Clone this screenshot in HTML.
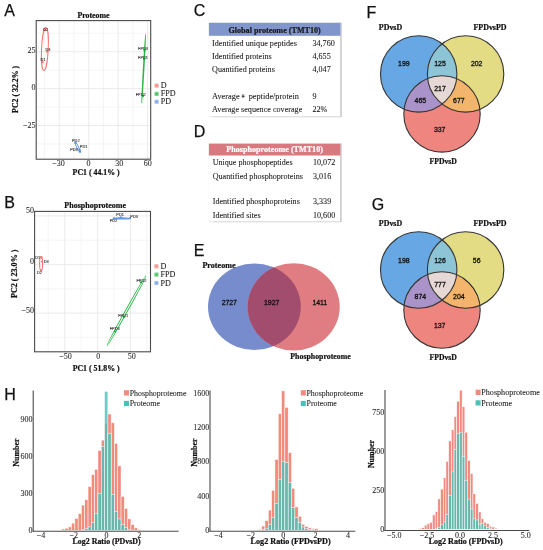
<!DOCTYPE html>
<html><head><meta charset="utf-8"><style>
html,body{margin:0;padding:0;background:#fff;width:543px;height:550px;overflow:hidden}
svg{display:block;filter:blur(0.3px)}
</style></head><body>
<svg width="543" height="550" viewBox="0 0 543 550">
<rect width="543" height="550" fill="#fff"/>
<text x="4.35" y="16.30" font-family="Liberation Sans" font-size="16" font-weight="normal" text-anchor="start" fill="#111" stroke="#111" stroke-width="0.25">A</text>
<rect x="36.2" y="20.6" width="114.49999999999999" height="138.6" fill="#fff"/>
<line x1="44.45" y1="20.6" x2="44.45" y2="159.2" stroke="#efefef" stroke-width="0.6"/>
<line x1="59.20" y1="20.6" x2="59.20" y2="159.2" stroke="#e6e6e6" stroke-width="0.75"/>
<line x1="73.95" y1="20.6" x2="73.95" y2="159.2" stroke="#efefef" stroke-width="0.6"/>
<line x1="88.70" y1="20.6" x2="88.70" y2="159.2" stroke="#e6e6e6" stroke-width="0.75"/>
<line x1="103.45" y1="20.6" x2="103.45" y2="159.2" stroke="#efefef" stroke-width="0.6"/>
<line x1="118.20" y1="20.6" x2="118.20" y2="159.2" stroke="#e6e6e6" stroke-width="0.75"/>
<line x1="132.95" y1="20.6" x2="132.95" y2="159.2" stroke="#efefef" stroke-width="0.6"/>
<line x1="147.70" y1="20.6" x2="147.70" y2="159.2" stroke="#e6e6e6" stroke-width="0.75"/>
<line x1="36.2" y1="143.95" x2="150.7" y2="143.95" stroke="#efefef" stroke-width="0.6"/>
<line x1="36.2" y1="125.50" x2="150.7" y2="125.50" stroke="#e6e6e6" stroke-width="0.75"/>
<line x1="36.2" y1="107.05" x2="150.7" y2="107.05" stroke="#efefef" stroke-width="0.6"/>
<line x1="36.2" y1="88.60" x2="150.7" y2="88.60" stroke="#e6e6e6" stroke-width="0.75"/>
<line x1="36.2" y1="70.15" x2="150.7" y2="70.15" stroke="#efefef" stroke-width="0.6"/>
<line x1="36.2" y1="51.70" x2="150.7" y2="51.70" stroke="#e6e6e6" stroke-width="0.75"/>
<line x1="36.2" y1="33.25" x2="150.7" y2="33.25" stroke="#efefef" stroke-width="0.6"/>
<ellipse cx="44.9" cy="49" rx="3.3" ry="21.5" transform="rotate(2.7 44.9 49)" fill="none" stroke="#F8766D" stroke-width="1.0" opacity="1"/>
<circle cx="45" cy="30" r="1.15" fill="#F8766D"/><text x="45.5" y="30.8" font-family="Liberation Sans" font-size="3.9" text-anchor="middle" fill="#222" stroke="#222" stroke-width="0.08">D2</text>
<circle cx="47.2" cy="51.8" r="1.15" fill="#F8766D"/><text x="48" y="51.099999999999994" font-family="Liberation Sans" font-size="3.9" text-anchor="middle" fill="#222" stroke="#222" stroke-width="0.08">D3</text>
<circle cx="42.5" cy="62" r="1.15" fill="#F8766D"/><text x="43" y="60.8" font-family="Liberation Sans" font-size="3.9" text-anchor="middle" fill="#222" stroke="#222" stroke-width="0.08">D1</text>
<ellipse cx="143.65" cy="68.65" rx="0.3" ry="34.4" transform="rotate(3.25 143.65 68.65)" fill="none" stroke="#1DB33F" stroke-width="1.0" opacity="0.95"/>
<circle cx="144.6" cy="50.5" r="1.15" fill="#1DB33F"/><text x="143" y="50.3" font-family="Liberation Sans" font-size="3.9" text-anchor="middle" fill="#222" stroke="#222" stroke-width="0.08">FPD3</text>
<circle cx="144.3" cy="59.3" r="1.15" fill="#1DB33F"/><text x="143" y="59.199999999999996" font-family="Liberation Sans" font-size="3.9" text-anchor="middle" fill="#222" stroke="#222" stroke-width="0.08">FPD1</text>
<circle cx="143.1" cy="96.1" r="1.15" fill="#1DB33F"/><text x="140.7" y="96.2" font-family="Liberation Sans" font-size="3.9" text-anchor="middle" fill="#222" stroke="#222" stroke-width="0.08">FPD2</text>
<ellipse cx="77.7" cy="147.35" rx="0.9" ry="5.8" transform="rotate(-26.8 77.7 147.35)" fill="none" stroke="#5C93E6" stroke-width="0.9" opacity="0.95"/>
<circle cx="75.5" cy="142.9" r="1.15" fill="#5C93E6"/><text x="75.8" y="141.60000000000002" font-family="Liberation Sans" font-size="3.9" text-anchor="middle" fill="#222" stroke="#222" stroke-width="0.08">PD2</text>
<circle cx="79.5" cy="149.5" r="1.15" fill="#5C93E6"/><text x="83.6" y="147.5" font-family="Liberation Sans" font-size="3.9" text-anchor="middle" fill="#222" stroke="#222" stroke-width="0.08">PD1</text>
<circle cx="79.9" cy="151.4" r="1.15" fill="#5C93E6"/><text x="74" y="151.20000000000002" font-family="Liberation Sans" font-size="3.9" text-anchor="middle" fill="#222" stroke="#222" stroke-width="0.08">PD3</text>
<rect x="36.2" y="20.6" width="114.49999999999999" height="138.6" fill="none" stroke="#4a4a4a" stroke-width="1.1"/>
<text x="58.50" y="165.60" font-family="Liberation Serif" font-size="8" font-weight="normal" text-anchor="middle" fill="#2a2a2a"  stroke="#2a2a2a" stroke-width="0.08">−30</text>
<text x="88.40" y="165.60" font-family="Liberation Serif" font-size="8" font-weight="normal" text-anchor="middle" fill="#2a2a2a"  stroke="#2a2a2a" stroke-width="0.08">0</text>
<text x="119.30" y="165.60" font-family="Liberation Serif" font-size="8" font-weight="normal" text-anchor="middle" fill="#2a2a2a"  stroke="#2a2a2a" stroke-width="0.08">30</text>
<text x="147.80" y="165.60" font-family="Liberation Serif" font-size="8" font-weight="normal" text-anchor="middle" fill="#2a2a2a"  stroke="#2a2a2a" stroke-width="0.08">60</text>
<text x="35.60" y="127.50" font-family="Liberation Serif" font-size="8" font-weight="normal" text-anchor="end" fill="#2a2a2a"  stroke="#2a2a2a" stroke-width="0.08">−25</text>
<text x="35.60" y="90.40" font-family="Liberation Serif" font-size="8" font-weight="normal" text-anchor="end" fill="#2a2a2a"  stroke="#2a2a2a" stroke-width="0.08">0</text>
<text x="35.60" y="52.70" font-family="Liberation Serif" font-size="8" font-weight="normal" text-anchor="end" fill="#2a2a2a"  stroke="#2a2a2a" stroke-width="0.08">25</text>
<text x="93.50" y="17.90" font-family="Liberation Serif" font-size="8.1" font-weight="bold" text-anchor="middle" fill="#111" textLength="32.2" lengthAdjust="spacingAndGlyphs"  stroke="#111" stroke-width="0.22">Proteome</text>
<text x="96.10" y="175.30" font-family="Liberation Serif" font-size="8.1" font-weight="bold" text-anchor="middle" fill="#111" textLength="47" lengthAdjust="spacingAndGlyphs"  stroke="#111" stroke-width="0.22">PC1 ( 44.1% )</text>
<text x="15.30" y="92.20" font-family="Liberation Serif" font-size="8.1" font-weight="bold" text-anchor="middle" fill="#111" textLength="47" lengthAdjust="spacingAndGlyphs" transform="rotate(-90 15.3 89.4)" stroke="#111" stroke-width="0.22">PC2 ( 32.2% )</text>
<rect x="154.5" y="83.55" width="4.2" height="4.2" fill="#f3b0ab"/>
<circle cx="156.6" cy="85.65" r="1.1" fill="#F8766D" opacity="0.8"/>
<text x="160.70" y="88.15" font-family="Liberation Serif" font-size="8.1" font-weight="normal" text-anchor="start" fill="#1a1a1a"  stroke="#1a1a1a" stroke-width="0.08">D</text>
<rect x="154.5" y="91.80" width="4.2" height="4.2" fill="#7fd48f"/>
<circle cx="156.6" cy="93.90" r="1.1" fill="#1DB33F" opacity="0.8"/>
<text x="160.70" y="96.40" font-family="Liberation Serif" font-size="8.1" font-weight="normal" text-anchor="start" fill="#1a1a1a"  stroke="#1a1a1a" stroke-width="0.08">FPD</text>
<rect x="154.5" y="99.65" width="4.2" height="4.2" fill="#a9c3ee"/>
<circle cx="156.6" cy="101.75" r="1.1" fill="#5C93E6" opacity="0.8"/>
<text x="160.70" y="104.25" font-family="Liberation Serif" font-size="8.1" font-weight="normal" text-anchor="start" fill="#1a1a1a"  stroke="#1a1a1a" stroke-width="0.08">PD</text>
<text x="4.23" y="208.40" font-family="Liberation Sans" font-size="16" font-weight="normal" text-anchor="start" fill="#111" stroke="#111" stroke-width="0.25">B</text>
<rect x="34.6" y="211.4" width="115.9" height="140.4" fill="#fff"/>
<line x1="48.25" y1="211.4" x2="48.25" y2="351.8" stroke="#efefef" stroke-width="0.6"/>
<line x1="64.70" y1="211.4" x2="64.70" y2="351.8" stroke="#e6e6e6" stroke-width="0.75"/>
<line x1="81.15" y1="211.4" x2="81.15" y2="351.8" stroke="#efefef" stroke-width="0.6"/>
<line x1="97.60" y1="211.4" x2="97.60" y2="351.8" stroke="#e6e6e6" stroke-width="0.75"/>
<line x1="114.05" y1="211.4" x2="114.05" y2="351.8" stroke="#efefef" stroke-width="0.6"/>
<line x1="130.50" y1="211.4" x2="130.50" y2="351.8" stroke="#e6e6e6" stroke-width="0.75"/>
<line x1="146.95" y1="211.4" x2="146.95" y2="351.8" stroke="#efefef" stroke-width="0.6"/>
<line x1="34.6" y1="337.40" x2="150.5" y2="337.40" stroke="#efefef" stroke-width="0.6"/>
<line x1="34.6" y1="313.10" x2="150.5" y2="313.10" stroke="#e6e6e6" stroke-width="0.75"/>
<line x1="34.6" y1="288.80" x2="150.5" y2="288.80" stroke="#efefef" stroke-width="0.6"/>
<line x1="34.6" y1="264.50" x2="150.5" y2="264.50" stroke="#e6e6e6" stroke-width="0.75"/>
<line x1="34.6" y1="240.20" x2="150.5" y2="240.20" stroke="#efefef" stroke-width="0.6"/>
<line x1="34.6" y1="215.90" x2="150.5" y2="215.90" stroke="#e6e6e6" stroke-width="0.75"/>
<ellipse cx="41.1" cy="263.6" rx="1.5" ry="7.4" transform="rotate(0 41.1 263.6)" fill="none" stroke="#F8766D" stroke-width="1.1" opacity="1"/>
<circle cx="41.4" cy="257.7" r="1.15" fill="#F8766D"/><text x="37.7" y="258.6" font-family="Liberation Sans" font-size="3.9" text-anchor="middle" fill="#222" stroke="#222" stroke-width="0.08">D1</text>
<circle cx="42.1" cy="261.7" r="1.15" fill="#F8766D"/><text x="46.2" y="263.0" font-family="Liberation Sans" font-size="3.9" text-anchor="middle" fill="#222" stroke="#222" stroke-width="0.08">D3</text>
<circle cx="41" cy="270.2" r="1.15" fill="#F8766D"/><text x="39.5" y="273.7" font-family="Liberation Sans" font-size="3.9" text-anchor="middle" fill="#222" stroke="#222" stroke-width="0.08">D2</text>
<ellipse cx="121.95" cy="218.45" rx="8.45" ry="0.6" transform="rotate(1 121.95 218.45)" fill="none" stroke="#5C93E6" stroke-width="1.1" opacity="0.95"/>
<circle cx="120.8" cy="217.5" r="1.15" fill="#5C93E6"/><text x="120.1" y="216.20000000000002" font-family="Liberation Sans" font-size="3.9" text-anchor="middle" fill="#222" stroke="#222" stroke-width="0.08">PD1</text>
<circle cx="130" cy="218.3" r="1.15" fill="#5C93E6"/><text x="134.1" y="217.70000000000002" font-family="Liberation Sans" font-size="3.9" text-anchor="middle" fill="#222" stroke="#222" stroke-width="0.08">PD3</text>
<circle cx="113.8" cy="218.6" r="1.15" fill="#5C93E6"/><text x="113.5" y="222.10000000000002" font-family="Liberation Sans" font-size="3.9" text-anchor="middle" fill="#222" stroke="#222" stroke-width="0.08">PD2</text>
<ellipse cx="126.5" cy="310.8" rx="1.0" ry="40" transform="rotate(29.1 126.5 310.8)" fill="none" stroke="#1DB33F" stroke-width="0.9" opacity="0.95"/>
<circle cx="141" cy="282.4" r="1.15" fill="#1DB33F"/><text x="141.4" y="282.1" font-family="Liberation Sans" font-size="3.9" text-anchor="middle" fill="#222" stroke="#222" stroke-width="0.08">FPD2</text>
<circle cx="124" cy="317" r="1.15" fill="#1DB33F"/><text x="123.2" y="316.90000000000003" font-family="Liberation Sans" font-size="3.9" text-anchor="middle" fill="#222" stroke="#222" stroke-width="0.08">FPD1</text>
<circle cx="115.1" cy="331.5" r="1.15" fill="#1DB33F"/><text x="114.7" y="329.7" font-family="Liberation Sans" font-size="3.9" text-anchor="middle" fill="#222" stroke="#222" stroke-width="0.08">FPD3</text>
<rect x="34.6" y="211.4" width="115.9" height="140.4" fill="none" stroke="#4a4a4a" stroke-width="1.1"/>
<text x="65.40" y="359.40" font-family="Liberation Serif" font-size="8" font-weight="normal" text-anchor="middle" fill="#2a2a2a"  stroke="#2a2a2a" stroke-width="0.08">−50</text>
<text x="98.30" y="359.40" font-family="Liberation Serif" font-size="8" font-weight="normal" text-anchor="middle" fill="#2a2a2a"  stroke="#2a2a2a" stroke-width="0.08">0</text>
<text x="131.70" y="359.40" font-family="Liberation Serif" font-size="8" font-weight="normal" text-anchor="middle" fill="#2a2a2a"  stroke="#2a2a2a" stroke-width="0.08">50</text>
<text x="34.00" y="313.30" font-family="Liberation Serif" font-size="8" font-weight="normal" text-anchor="end" fill="#2a2a2a"  stroke="#2a2a2a" stroke-width="0.08">−50</text>
<text x="34.00" y="263.70" font-family="Liberation Serif" font-size="8" font-weight="normal" text-anchor="end" fill="#2a2a2a"  stroke="#2a2a2a" stroke-width="0.08">0</text>
<text x="34.00" y="213.20" font-family="Liberation Serif" font-size="8" font-weight="normal" text-anchor="end" fill="#2a2a2a"  stroke="#2a2a2a" stroke-width="0.08">50</text>
<text x="95.20" y="207.60" font-family="Liberation Serif" font-size="8.1" font-weight="bold" text-anchor="middle" fill="#111" textLength="61.8" lengthAdjust="spacingAndGlyphs"  stroke="#111" stroke-width="0.22">Phosphoproteome</text>
<text x="96.10" y="371.10" font-family="Liberation Serif" font-size="8.1" font-weight="bold" text-anchor="middle" fill="#111" textLength="46.9" lengthAdjust="spacingAndGlyphs"  stroke="#111" stroke-width="0.22">PC1 ( 51.8% )</text>
<text x="14.00" y="276.60" font-family="Liberation Serif" font-size="8.1" font-weight="bold" text-anchor="middle" fill="#111" textLength="48.4" lengthAdjust="spacingAndGlyphs" transform="rotate(-90 14 273.8)" stroke="#111" stroke-width="0.22">PC2 ( 23.0% )</text>
<rect x="154.3" y="264.20" width="4.2" height="4.2" fill="#f3b0ab"/>
<circle cx="156.4" cy="266.30" r="1.1" fill="#F8766D" opacity="0.8"/>
<text x="160.50" y="268.80" font-family="Liberation Serif" font-size="8.1" font-weight="normal" text-anchor="start" fill="#1a1a1a"  stroke="#1a1a1a" stroke-width="0.08">D</text>
<rect x="154.3" y="272.50" width="4.2" height="4.2" fill="#7fd48f"/>
<circle cx="156.4" cy="274.60" r="1.1" fill="#1DB33F" opacity="0.8"/>
<text x="160.50" y="277.10" font-family="Liberation Serif" font-size="8.1" font-weight="normal" text-anchor="start" fill="#1a1a1a"  stroke="#1a1a1a" stroke-width="0.08">FPD</text>
<rect x="154.3" y="280.90" width="4.2" height="4.2" fill="#a9c3ee"/>
<circle cx="156.4" cy="283.00" r="1.1" fill="#5C93E6" opacity="0.8"/>
<text x="160.50" y="285.50" font-family="Liberation Serif" font-size="8.1" font-weight="normal" text-anchor="start" fill="#1a1a1a"  stroke="#1a1a1a" stroke-width="0.08">PD</text>
<text x="193.67" y="16.30" font-family="Liberation Sans" font-size="16" font-weight="normal" text-anchor="start" fill="#111" stroke="#111" stroke-width="0.25">C</text>
<rect x="208.9" y="22.299999999999997" width="132.89999999999998" height="94.9" fill="#e2e2e2"/>
<rect x="208.9" y="22.9" width="131.49999999999997" height="93.5" fill="#fff"/>
<rect x="340.4" y="22.599999999999998" width="1.1" height="94.3" fill="#c4c4c4"/>
<rect x="212.9" y="116.4" width="127.49999999999997" height="0.8" fill="#dadada"/>
<rect x="208.9" y="22.9" width="131.49999999999997" height="12.899999999999999" fill="#8096CD"/>
<text x="274.65" y="32.90" font-family="Liberation Serif" font-size="8.1" font-weight="bold" text-anchor="middle" fill="#1a1a1a" textLength="92.4" lengthAdjust="spacingAndGlyphs"  stroke="#1a1a1a" stroke-width="0.22">Global proteome (TMT10)</text>
<text x="212.10" y="45.70" font-family="Liberation Serif" font-size="8.1" font-weight="normal" text-anchor="start" fill="#1a1a1a" textLength="84.8" lengthAdjust="spacingAndGlyphs"  stroke="#1a1a1a" stroke-width="0.08">Identified unique peptides</text>
<text x="312.50" y="45.70" font-family="Liberation Serif" font-size="8.1" font-weight="normal" text-anchor="start" fill="#1a1a1a"  stroke="#1a1a1a" stroke-width="0.08">34,760</text>
<text x="212.10" y="59.00" font-family="Liberation Serif" font-size="8.1" font-weight="normal" text-anchor="start" fill="#1a1a1a"  stroke="#1a1a1a" stroke-width="0.08">Identified proteins</text>
<text x="312.50" y="59.00" font-family="Liberation Serif" font-size="8.1" font-weight="normal" text-anchor="start" fill="#1a1a1a"  stroke="#1a1a1a" stroke-width="0.08">4,655</text>
<text x="212.10" y="71.50" font-family="Liberation Serif" font-size="8.1" font-weight="normal" text-anchor="start" fill="#1a1a1a"  stroke="#1a1a1a" stroke-width="0.08">Quantified proteins</text>
<text x="312.50" y="71.50" font-family="Liberation Serif" font-size="8.1" font-weight="normal" text-anchor="start" fill="#1a1a1a"  stroke="#1a1a1a" stroke-width="0.08">4,047</text>
<text x="212.10" y="99.20" font-family="Liberation Serif" font-size="8.1" font-weight="normal" text-anchor="start" fill="#1a1a1a" textLength="86.8" lengthAdjust="spacingAndGlyphs"  stroke="#1a1a1a" stroke-width="0.08">Average <tspan font-size="5.5" dy="-1.2">#</tspan><tspan dy="1.2">&#160;&#160;peptide/protein</tspan></text>
<text x="312.50" y="99.20" font-family="Liberation Serif" font-size="8.1" font-weight="normal" text-anchor="start" fill="#1a1a1a"  stroke="#1a1a1a" stroke-width="0.08">9</text>
<text x="212.10" y="111.50" font-family="Liberation Serif" font-size="8.1" font-weight="normal" text-anchor="start" fill="#1a1a1a" textLength="90.2" lengthAdjust="spacingAndGlyphs"  stroke="#1a1a1a" stroke-width="0.08">Average sequence coverage</text>
<text x="312.50" y="111.50" font-family="Liberation Serif" font-size="8.1" font-weight="normal" text-anchor="start" fill="#1a1a1a"  stroke="#1a1a1a" stroke-width="0.08">22%</text>
<text x="193.85" y="137.40" font-family="Liberation Sans" font-size="16" font-weight="normal" text-anchor="start" fill="#111" stroke="#111" stroke-width="0.25">D</text>
<rect x="208.9" y="143.1" width="132.8" height="79.10000000000002" fill="#e2e2e2"/>
<rect x="208.9" y="143.7" width="131.4" height="77.70000000000002" fill="#fff"/>
<rect x="340.3" y="143.39999999999998" width="1.1" height="78.50000000000001" fill="#c4c4c4"/>
<rect x="212.9" y="221.4" width="127.4" height="0.8" fill="#dadada"/>
<rect x="208.9" y="143.7" width="131.4" height="11.800000000000011" fill="#D8787F"/>
<text x="274.60" y="152.20" font-family="Liberation Serif" font-size="8.1" font-weight="bold" text-anchor="middle" fill="#fff" textLength="96.7" lengthAdjust="spacingAndGlyphs"  stroke="#fff" stroke-width="0.22">Phosphoproteome (TMT10)</text>
<text x="212.70" y="165.00" font-family="Liberation Serif" font-size="8.1" font-weight="normal" text-anchor="start" fill="#1a1a1a" textLength="79.9" lengthAdjust="spacingAndGlyphs"  stroke="#1a1a1a" stroke-width="0.08">Unique phosphopeptides</text>
<text x="313.00" y="165.00" font-family="Liberation Serif" font-size="8.1" font-weight="normal" text-anchor="start" fill="#1a1a1a"  stroke="#1a1a1a" stroke-width="0.08">10,072</text>
<text x="212.70" y="178.70" font-family="Liberation Serif" font-size="8.1" font-weight="normal" text-anchor="start" fill="#1a1a1a" textLength="90.2" lengthAdjust="spacingAndGlyphs"  stroke="#1a1a1a" stroke-width="0.08">Quantified phosphoproteins</text>
<text x="313.00" y="178.70" font-family="Liberation Serif" font-size="8.1" font-weight="normal" text-anchor="start" fill="#1a1a1a"  stroke="#1a1a1a" stroke-width="0.08">3,016</text>
<text x="212.70" y="204.20" font-family="Liberation Serif" font-size="8.1" font-weight="normal" text-anchor="start" fill="#1a1a1a" textLength="87.1" lengthAdjust="spacingAndGlyphs"  stroke="#1a1a1a" stroke-width="0.08">Identified phosphoproteins</text>
<text x="313.00" y="204.20" font-family="Liberation Serif" font-size="8.1" font-weight="normal" text-anchor="start" fill="#1a1a1a"  stroke="#1a1a1a" stroke-width="0.08">3,339</text>
<text x="212.70" y="217.60" font-family="Liberation Serif" font-size="8.1" font-weight="normal" text-anchor="start" fill="#1a1a1a"  stroke="#1a1a1a" stroke-width="0.08">Identified sites</text>
<text x="313.00" y="217.60" font-family="Liberation Serif" font-size="8.1" font-weight="normal" text-anchor="start" fill="#1a1a1a"  stroke="#1a1a1a" stroke-width="0.08">10,600</text>
<text x="193.70" y="255.95" font-family="Liberation Sans" font-size="16" font-weight="normal" text-anchor="start" fill="#111" stroke="#111" stroke-width="0.25">E</text>
<defs><clipPath id="cE"><ellipse cx="254.4" cy="306.7" rx="46.4" ry="43.3"/></clipPath></defs>
<ellipse cx="254.4" cy="306.7" rx="46.4" ry="43.3" fill="#768CCD"/>
<ellipse cx="293.7" cy="306.9" rx="46" ry="43.6" fill="#E07D82"/>
<ellipse cx="293.7" cy="306.9" rx="46" ry="43.6" fill="#A24D6E" clip-path="url(#cE)"/>
<text x="229.30" y="305.40" font-family="Liberation Sans" font-size="6.9" font-weight="normal" text-anchor="middle" fill="#111"  stroke="#111" stroke-width="0.3">2727</text>
<text x="271.70" y="305.40" font-family="Liberation Sans" font-size="6.9" font-weight="normal" text-anchor="middle" fill="#111"  stroke="#111" stroke-width="0.3">1927</text>
<text x="319.80" y="304.60" font-family="Liberation Sans" font-size="6.9" font-weight="normal" text-anchor="middle" fill="#111"  stroke="#111" stroke-width="0.3">1411</text>
<text x="219.00" y="268.00" font-family="Liberation Serif" font-size="8.1" font-weight="bold" text-anchor="middle" fill="#111" textLength="33.2" lengthAdjust="spacingAndGlyphs"  stroke="#111" stroke-width="0.22">Proteome</text>
<text x="320.50" y="358.80" font-family="Liberation Serif" font-size="8.1" font-weight="bold" text-anchor="middle" fill="#111" textLength="60.3" lengthAdjust="spacingAndGlyphs"  stroke="#111" stroke-width="0.22">Phosphoproteome</text>
<text x="366.50" y="17.80" font-family="Liberation Sans" font-size="16" font-weight="normal" text-anchor="start" fill="#111" stroke="#111" stroke-width="0.25">F</text>
<defs><clipPath id="vfb"><circle cx="418.7" cy="73.9" r="38.2"/></clipPath><clipPath id="vfy"><circle cx="465.6" cy="73.9" r="38.2"/></clipPath></defs>
<circle cx="418.7" cy="73.9" r="38.2" fill="#67A7E3"/>
<circle cx="465.6" cy="73.9" r="38.2" fill="#E4DC84"/>
<circle cx="442.0" cy="113.9" r="38.2" fill="#EF857F"/>
<circle cx="465.6" cy="73.9" r="38.2" fill="#8DC5D6" clip-path="url(#vfb)"/>
<circle cx="442.0" cy="113.9" r="38.2" fill="#A993C8" clip-path="url(#vfb)"/>
<circle cx="442.0" cy="113.9" r="38.2" fill="#F3B56B" clip-path="url(#vfy)"/>
<g clip-path="url(#vfb)"><circle cx="442.0" cy="113.9" r="38.2" fill="#E6D8D4" clip-path="url(#vfy)"/></g>
<circle cx="418.7" cy="73.9" r="38.2" fill="none" stroke="#353535" stroke-width="1.1"/>
<circle cx="465.6" cy="73.9" r="38.2" fill="none" stroke="#353535" stroke-width="1.1"/>
<circle cx="442.0" cy="113.9" r="38.2" fill="none" stroke="#353535" stroke-width="1.1"/>
<text x="403.90" y="66.40" font-family="Liberation Sans" font-size="6.95" font-weight="normal" text-anchor="middle" fill="#111"  stroke="#111" stroke-width="0.3">199</text>
<text x="440.00" y="66.40" font-family="Liberation Sans" font-size="6.95" font-weight="normal" text-anchor="middle" fill="#111"  stroke="#111" stroke-width="0.3">125</text>
<text x="476.70" y="66.40" font-family="Liberation Sans" font-size="6.95" font-weight="normal" text-anchor="middle" fill="#111"  stroke="#111" stroke-width="0.3">202</text>
<text x="440.00" y="90.90" font-family="Liberation Sans" font-size="6.95" font-weight="normal" text-anchor="middle" fill="#111"  stroke="#111" stroke-width="0.3">217</text>
<text x="420.40" y="103.20" font-family="Liberation Sans" font-size="6.95" font-weight="normal" text-anchor="middle" fill="#111"  stroke="#111" stroke-width="0.3">465</text>
<text x="458.90" y="103.20" font-family="Liberation Sans" font-size="6.95" font-weight="normal" text-anchor="middle" fill="#111"  stroke="#111" stroke-width="0.3">677</text>
<text x="439.70" y="131.80" font-family="Liberation Sans" font-size="6.95" font-weight="normal" text-anchor="middle" fill="#111"  stroke="#111" stroke-width="0.3">337</text>
<text x="390.50" y="30.10" font-family="Liberation Serif" font-size="8.1" font-weight="bold" text-anchor="middle" fill="#111" textLength="23.4" lengthAdjust="spacingAndGlyphs"  stroke="#111" stroke-width="0.22">PDvsD</text>
<text x="490.00" y="30.10" font-family="Liberation Serif" font-size="8.1" font-weight="bold" text-anchor="middle" fill="#111" textLength="33.2" lengthAdjust="spacingAndGlyphs"  stroke="#111" stroke-width="0.22">FPDvsPD</text>
<text x="443.20" y="163.60" font-family="Liberation Serif" font-size="8.1" font-weight="bold" text-anchor="middle" fill="#111" textLength="27.4" lengthAdjust="spacingAndGlyphs"  stroke="#111" stroke-width="0.22">FPDvsD</text>
<text x="371.67" y="210.20" font-family="Liberation Sans" font-size="16" font-weight="normal" text-anchor="start" fill="#111" stroke="#111" stroke-width="0.25">G</text>
<defs><clipPath id="vgb"><circle cx="418.7" cy="270.0" r="38.2"/></clipPath><clipPath id="vgy"><circle cx="465.6" cy="270.0" r="38.2"/></clipPath></defs>
<circle cx="418.7" cy="270.0" r="38.2" fill="#67A7E3"/>
<circle cx="465.6" cy="270.0" r="38.2" fill="#E4DC84"/>
<circle cx="442.0" cy="310.0" r="38.2" fill="#EF857F"/>
<circle cx="465.6" cy="270.0" r="38.2" fill="#8DC5D6" clip-path="url(#vgb)"/>
<circle cx="442.0" cy="310.0" r="38.2" fill="#A993C8" clip-path="url(#vgb)"/>
<circle cx="442.0" cy="310.0" r="38.2" fill="#F3B56B" clip-path="url(#vgy)"/>
<g clip-path="url(#vgb)"><circle cx="442.0" cy="310.0" r="38.2" fill="#E6D8D4" clip-path="url(#vgy)"/></g>
<circle cx="418.7" cy="270.0" r="38.2" fill="none" stroke="#353535" stroke-width="1.1"/>
<circle cx="465.6" cy="270.0" r="38.2" fill="none" stroke="#353535" stroke-width="1.1"/>
<circle cx="442.0" cy="310.0" r="38.2" fill="none" stroke="#353535" stroke-width="1.1"/>
<text x="403.90" y="262.50" font-family="Liberation Sans" font-size="6.95" font-weight="normal" text-anchor="middle" fill="#111"  stroke="#111" stroke-width="0.3">198</text>
<text x="440.00" y="262.50" font-family="Liberation Sans" font-size="6.95" font-weight="normal" text-anchor="middle" fill="#111"  stroke="#111" stroke-width="0.3">126</text>
<text x="476.70" y="262.50" font-family="Liberation Sans" font-size="6.95" font-weight="normal" text-anchor="middle" fill="#111"  stroke="#111" stroke-width="0.3">56</text>
<text x="440.00" y="287.00" font-family="Liberation Sans" font-size="6.95" font-weight="normal" text-anchor="middle" fill="#111"  stroke="#111" stroke-width="0.3">777</text>
<text x="420.40" y="299.30" font-family="Liberation Sans" font-size="6.95" font-weight="normal" text-anchor="middle" fill="#111"  stroke="#111" stroke-width="0.3">874</text>
<text x="458.90" y="299.30" font-family="Liberation Sans" font-size="6.95" font-weight="normal" text-anchor="middle" fill="#111"  stroke="#111" stroke-width="0.3">204</text>
<text x="439.70" y="327.90" font-family="Liberation Sans" font-size="6.95" font-weight="normal" text-anchor="middle" fill="#111"  stroke="#111" stroke-width="0.3">137</text>
<text x="390.50" y="226.20" font-family="Liberation Serif" font-size="8.1" font-weight="bold" text-anchor="middle" fill="#111" textLength="23.4" lengthAdjust="spacingAndGlyphs"  stroke="#111" stroke-width="0.22">PDvsD</text>
<text x="490.00" y="226.20" font-family="Liberation Serif" font-size="8.1" font-weight="bold" text-anchor="middle" fill="#111" textLength="33.2" lengthAdjust="spacingAndGlyphs"  stroke="#111" stroke-width="0.22">FPDvsPD</text>
<text x="443.20" y="359.70" font-family="Liberation Serif" font-size="8.1" font-weight="bold" text-anchor="middle" fill="#111" textLength="27.4" lengthAdjust="spacingAndGlyphs"  stroke="#111" stroke-width="0.22">FPDvsD</text>
<text x="4.32" y="400.40" font-family="Liberation Sans" font-size="16" font-weight="normal" text-anchor="start" fill="#111" stroke="#111" stroke-width="0.25">H</text>
<rect x="61.65" y="529.00" width="3.30" height="1.30" fill="#F18B7D" stroke="#fff" stroke-width="0.5"/>
<rect x="64.95" y="528.20" width="3.30" height="2.10" fill="#F18B7D" stroke="#fff" stroke-width="0.5"/>
<rect x="68.25" y="526.90" width="3.30" height="3.40" fill="#F18B7D" stroke="#fff" stroke-width="0.5"/>
<rect x="71.55" y="523.10" width="3.30" height="7.20" fill="#F18B7D" stroke="#fff" stroke-width="0.5"/>
<rect x="74.85" y="518.40" width="3.30" height="11.90" fill="#F18B7D" stroke="#fff" stroke-width="0.5"/>
<rect x="78.15" y="513.60" width="3.30" height="16.70" fill="#F18B7D" stroke="#fff" stroke-width="0.5"/>
<rect x="81.45" y="505.10" width="3.30" height="25.20" fill="#F18B7D" stroke="#fff" stroke-width="0.5"/>
<rect x="84.75" y="499.80" width="3.30" height="30.50" fill="#F18B7D" stroke="#fff" stroke-width="0.5"/>
<rect x="88.05" y="486.50" width="3.30" height="43.80" fill="#F18B7D" stroke="#fff" stroke-width="0.5"/>
<rect x="91.35" y="474.60" width="3.30" height="55.70" fill="#F18B7D" stroke="#fff" stroke-width="0.5"/>
<rect x="94.65" y="469.30" width="3.30" height="61.00" fill="#F18B7D" stroke="#fff" stroke-width="0.5"/>
<rect x="97.95" y="450.70" width="3.30" height="79.60" fill="#F18B7D" stroke="#fff" stroke-width="0.5"/>
<rect x="101.25" y="440.10" width="3.30" height="90.20" fill="#F18B7D" stroke="#fff" stroke-width="0.5"/>
<rect x="104.55" y="423.30" width="3.30" height="107.00" fill="#F18B7D" stroke="#fff" stroke-width="0.5"/>
<rect x="107.85" y="414.00" width="3.30" height="116.30" fill="#F18B7D" stroke="#fff" stroke-width="0.5"/>
<rect x="111.15" y="422.80" width="3.30" height="107.50" fill="#F18B7D" stroke="#fff" stroke-width="0.5"/>
<rect x="114.45" y="443.30" width="3.30" height="87.00" fill="#F18B7D" stroke="#fff" stroke-width="0.5"/>
<rect x="117.75" y="465.90" width="3.30" height="64.40" fill="#F18B7D" stroke="#fff" stroke-width="0.5"/>
<rect x="121.05" y="496.30" width="3.30" height="34.00" fill="#F18B7D" stroke="#fff" stroke-width="0.5"/>
<rect x="124.35" y="508.50" width="3.30" height="21.80" fill="#F18B7D" stroke="#fff" stroke-width="0.5"/>
<rect x="127.65" y="518.90" width="3.30" height="11.40" fill="#F18B7D" stroke="#fff" stroke-width="0.5"/>
<rect x="130.95" y="524.60" width="3.30" height="5.70" fill="#F18B7D" stroke="#fff" stroke-width="0.5"/>
<rect x="134.25" y="527.80" width="3.30" height="2.50" fill="#F18B7D" stroke="#fff" stroke-width="0.5"/>
<rect x="137.55" y="529.30" width="3.30" height="1.00" fill="#F18B7D" stroke="#fff" stroke-width="0.5"/>
<rect x="81.45" y="529.30" width="3.30" height="1.00" fill="#4DBFB6" fill-opacity="0.82" stroke="#fff" stroke-width="0.5"/>
<rect x="84.75" y="528.80" width="3.30" height="1.50" fill="#4DBFB6" fill-opacity="0.82" stroke="#fff" stroke-width="0.5"/>
<rect x="88.05" y="526.90" width="3.30" height="3.40" fill="#4DBFB6" fill-opacity="0.82" stroke="#fff" stroke-width="0.5"/>
<rect x="91.35" y="522.30" width="3.30" height="8.00" fill="#4DBFB6" fill-opacity="0.82" stroke="#fff" stroke-width="0.5"/>
<rect x="94.65" y="513.30" width="3.30" height="17.00" fill="#4DBFB6" fill-opacity="0.82" stroke="#fff" stroke-width="0.5"/>
<rect x="97.95" y="493.30" width="3.30" height="37.00" fill="#4DBFB6" fill-opacity="0.82" stroke="#fff" stroke-width="0.5"/>
<rect x="101.25" y="446.30" width="3.30" height="84.00" fill="#4DBFB6" fill-opacity="0.82" stroke="#fff" stroke-width="0.5"/>
<rect x="104.55" y="391.30" width="3.30" height="139.00" fill="#4DBFB6" fill-opacity="0.82" stroke="#fff" stroke-width="0.5"/>
<rect x="107.85" y="433.60" width="3.30" height="96.70" fill="#4DBFB6" fill-opacity="0.82" stroke="#fff" stroke-width="0.5"/>
<rect x="111.15" y="494.30" width="3.30" height="36.00" fill="#4DBFB6" fill-opacity="0.82" stroke="#fff" stroke-width="0.5"/>
<rect x="114.45" y="511.40" width="3.30" height="18.90" fill="#4DBFB6" fill-opacity="0.82" stroke="#fff" stroke-width="0.5"/>
<rect x="117.75" y="518.90" width="3.30" height="11.40" fill="#4DBFB6" fill-opacity="0.82" stroke="#fff" stroke-width="0.5"/>
<rect x="121.05" y="524.60" width="3.30" height="5.70" fill="#4DBFB6" fill-opacity="0.82" stroke="#fff" stroke-width="0.5"/>
<rect x="124.35" y="527.50" width="3.30" height="2.80" fill="#4DBFB6" fill-opacity="0.82" stroke="#fff" stroke-width="0.5"/>
<rect x="127.65" y="529.30" width="3.30" height="1.00" fill="#4DBFB6" fill-opacity="0.82" stroke="#fff" stroke-width="0.5"/>
<line x1="33.2" y1="390.6" x2="33.2" y2="531.75" stroke="#4a4a4a" stroke-width="1.1"/>
<line x1="32.650000000000006" y1="531.2" x2="178.6" y2="531.2" stroke="#4a4a4a" stroke-width="1.1"/>
<text x="32.40" y="533.00" font-family="Liberation Serif" font-size="8" font-weight="normal" text-anchor="end" fill="#2a2a2a"  stroke="#2a2a2a" stroke-width="0.08">0</text>
<text x="32.40" y="495.89" font-family="Liberation Serif" font-size="8" font-weight="normal" text-anchor="end" fill="#2a2a2a"  stroke="#2a2a2a" stroke-width="0.08">300</text>
<text x="32.40" y="458.78" font-family="Liberation Serif" font-size="8" font-weight="normal" text-anchor="end" fill="#2a2a2a"  stroke="#2a2a2a" stroke-width="0.08">600</text>
<text x="32.40" y="421.67" font-family="Liberation Serif" font-size="8" font-weight="normal" text-anchor="end" fill="#2a2a2a"  stroke="#2a2a2a" stroke-width="0.08">900</text>
<text x="41.10" y="538.30" font-family="Liberation Serif" font-size="8" font-weight="normal" text-anchor="middle" fill="#2a2a2a"  stroke="#2a2a2a" stroke-width="0.08">−4</text>
<text x="73.80" y="538.30" font-family="Liberation Serif" font-size="8" font-weight="normal" text-anchor="middle" fill="#2a2a2a"  stroke="#2a2a2a" stroke-width="0.08">−2</text>
<text x="106.50" y="538.30" font-family="Liberation Serif" font-size="8" font-weight="normal" text-anchor="middle" fill="#2a2a2a"  stroke="#2a2a2a" stroke-width="0.08">0</text>
<text x="139.20" y="538.30" font-family="Liberation Serif" font-size="8" font-weight="normal" text-anchor="middle" fill="#2a2a2a"  stroke="#2a2a2a" stroke-width="0.08">2</text>
<text x="106.60" y="544.20" font-family="Liberation Serif" font-size="8.1" font-weight="bold" text-anchor="middle" fill="#111" textLength="68" lengthAdjust="spacingAndGlyphs"  stroke="#111" stroke-width="0.22">Log2 Ratio (PDvsD)</text>
<text x="16.00" y="455.40" font-family="Liberation Serif" font-size="8.1" font-weight="bold" text-anchor="middle" fill="#111" textLength="28.2" lengthAdjust="spacingAndGlyphs" transform="rotate(-90 16 452.6)" stroke="#111" stroke-width="0.22">Number</text>
<rect x="124.0" y="390.20000000000005" width="5" height="5.3" fill="#F18B7D"/>
<text x="129.70" y="395.60" font-family="Liberation Serif" font-size="8" font-weight="normal" text-anchor="start" fill="#222" textLength="56.7" lengthAdjust="spacingAndGlyphs"  stroke="#222" stroke-width="0.08">Phosphoproteome</text>
<rect x="124.0" y="400.9" width="5" height="5.2" fill="#4DBFB6"/>
<text x="129.70" y="406.20" font-family="Liberation Serif" font-size="8" font-weight="normal" text-anchor="start" fill="#222" textLength="30.3" lengthAdjust="spacingAndGlyphs"  stroke="#222" stroke-width="0.08">Proteome</text>
<rect x="258.30" y="529.20" width="3.32" height="1.00" fill="#F18B7D" stroke="#fff" stroke-width="0.5"/>
<rect x="261.62" y="526.00" width="3.32" height="4.20" fill="#F18B7D" stroke="#fff" stroke-width="0.5"/>
<rect x="264.94" y="520.60" width="3.32" height="9.60" fill="#F18B7D" stroke="#fff" stroke-width="0.5"/>
<rect x="268.26" y="510.10" width="3.32" height="20.10" fill="#F18B7D" stroke="#fff" stroke-width="0.5"/>
<rect x="271.58" y="490.40" width="3.32" height="39.80" fill="#F18B7D" stroke="#fff" stroke-width="0.5"/>
<rect x="274.90" y="459.50" width="3.32" height="70.70" fill="#F18B7D" stroke="#fff" stroke-width="0.5"/>
<rect x="278.22" y="413.80" width="3.32" height="116.40" fill="#F18B7D" stroke="#fff" stroke-width="0.5"/>
<rect x="281.54" y="390.90" width="3.32" height="139.30" fill="#F18B7D" stroke="#fff" stroke-width="0.5"/>
<rect x="284.86" y="407.30" width="3.32" height="122.90" fill="#F18B7D" stroke="#fff" stroke-width="0.5"/>
<rect x="288.18" y="452.60" width="3.32" height="77.60" fill="#F18B7D" stroke="#fff" stroke-width="0.5"/>
<rect x="291.50" y="488.20" width="3.32" height="42.00" fill="#F18B7D" stroke="#fff" stroke-width="0.5"/>
<rect x="294.82" y="506.90" width="3.32" height="23.30" fill="#F18B7D" stroke="#fff" stroke-width="0.5"/>
<rect x="298.14" y="516.30" width="3.32" height="13.90" fill="#F18B7D" stroke="#fff" stroke-width="0.5"/>
<rect x="301.46" y="524.20" width="3.32" height="6.00" fill="#F18B7D" stroke="#fff" stroke-width="0.5"/>
<rect x="304.78" y="526.30" width="3.32" height="3.90" fill="#F18B7D" stroke="#fff" stroke-width="0.5"/>
<rect x="308.10" y="527.80" width="3.32" height="2.40" fill="#F18B7D" stroke="#fff" stroke-width="0.5"/>
<rect x="311.42" y="528.50" width="3.32" height="1.70" fill="#F18B7D" stroke="#fff" stroke-width="0.5"/>
<rect x="314.74" y="528.80" width="3.32" height="1.40" fill="#F18B7D" stroke="#fff" stroke-width="0.5"/>
<rect x="261.62" y="529.60" width="3.32" height="0.60" fill="#4DBFB6" fill-opacity="0.82" stroke="#fff" stroke-width="0.5"/>
<rect x="264.94" y="528.20" width="3.32" height="2.00" fill="#4DBFB6" fill-opacity="0.82" stroke="#fff" stroke-width="0.5"/>
<rect x="268.26" y="524.60" width="3.32" height="5.60" fill="#4DBFB6" fill-opacity="0.82" stroke="#fff" stroke-width="0.5"/>
<rect x="271.58" y="517.30" width="3.32" height="12.90" fill="#4DBFB6" fill-opacity="0.82" stroke="#fff" stroke-width="0.5"/>
<rect x="274.90" y="503.30" width="3.32" height="26.90" fill="#4DBFB6" fill-opacity="0.82" stroke="#fff" stroke-width="0.5"/>
<rect x="278.22" y="479.60" width="3.32" height="50.60" fill="#4DBFB6" fill-opacity="0.82" stroke="#fff" stroke-width="0.5"/>
<rect x="281.54" y="461.20" width="3.32" height="69.00" fill="#4DBFB6" fill-opacity="0.82" stroke="#fff" stroke-width="0.5"/>
<rect x="284.86" y="462.60" width="3.32" height="67.60" fill="#4DBFB6" fill-opacity="0.82" stroke="#fff" stroke-width="0.5"/>
<rect x="288.18" y="482.50" width="3.32" height="47.70" fill="#4DBFB6" fill-opacity="0.82" stroke="#fff" stroke-width="0.5"/>
<rect x="291.50" y="507.60" width="3.32" height="22.60" fill="#4DBFB6" fill-opacity="0.82" stroke="#fff" stroke-width="0.5"/>
<rect x="294.82" y="517.70" width="3.32" height="12.50" fill="#4DBFB6" fill-opacity="0.82" stroke="#fff" stroke-width="0.5"/>
<rect x="298.14" y="522.70" width="3.32" height="7.50" fill="#4DBFB6" fill-opacity="0.82" stroke="#fff" stroke-width="0.5"/>
<rect x="301.46" y="527.00" width="3.32" height="3.20" fill="#4DBFB6" fill-opacity="0.82" stroke="#fff" stroke-width="0.5"/>
<rect x="304.78" y="528.50" width="3.32" height="1.70" fill="#4DBFB6" fill-opacity="0.82" stroke="#fff" stroke-width="0.5"/>
<rect x="308.10" y="529.20" width="3.32" height="1.00" fill="#4DBFB6" fill-opacity="0.82" stroke="#fff" stroke-width="0.5"/>
<rect x="311.42" y="529.70" width="3.32" height="0.50" fill="#4DBFB6" fill-opacity="0.82" stroke="#fff" stroke-width="0.5"/>
<line x1="210.0" y1="390.6" x2="210.0" y2="531.75" stroke="#4a4a4a" stroke-width="1.1"/>
<line x1="209.45" y1="531.2" x2="355.3" y2="531.2" stroke="#4a4a4a" stroke-width="1.1"/>
<text x="209.20" y="532.90" font-family="Liberation Serif" font-size="8" font-weight="normal" text-anchor="end" fill="#2a2a2a"  stroke="#2a2a2a" stroke-width="0.08">0</text>
<text x="209.20" y="498.60" font-family="Liberation Serif" font-size="8" font-weight="normal" text-anchor="end" fill="#2a2a2a"  stroke="#2a2a2a" stroke-width="0.08">400</text>
<text x="209.20" y="464.30" font-family="Liberation Serif" font-size="8" font-weight="normal" text-anchor="end" fill="#2a2a2a"  stroke="#2a2a2a" stroke-width="0.08">800</text>
<text x="209.20" y="430.00" font-family="Liberation Serif" font-size="8" font-weight="normal" text-anchor="end" fill="#2a2a2a"  stroke="#2a2a2a" stroke-width="0.08">1200</text>
<text x="209.20" y="395.70" font-family="Liberation Serif" font-size="8" font-weight="normal" text-anchor="end" fill="#2a2a2a"  stroke="#2a2a2a" stroke-width="0.08">1600</text>
<text x="218.52" y="538.30" font-family="Liberation Serif" font-size="8" font-weight="normal" text-anchor="middle" fill="#2a2a2a"  stroke="#2a2a2a" stroke-width="0.08">−4</text>
<text x="250.86" y="538.30" font-family="Liberation Serif" font-size="8" font-weight="normal" text-anchor="middle" fill="#2a2a2a"  stroke="#2a2a2a" stroke-width="0.08">−2</text>
<text x="283.20" y="538.30" font-family="Liberation Serif" font-size="8" font-weight="normal" text-anchor="middle" fill="#2a2a2a"  stroke="#2a2a2a" stroke-width="0.08">0</text>
<text x="315.54" y="538.30" font-family="Liberation Serif" font-size="8" font-weight="normal" text-anchor="middle" fill="#2a2a2a"  stroke="#2a2a2a" stroke-width="0.08">2</text>
<text x="347.88" y="538.30" font-family="Liberation Serif" font-size="8" font-weight="normal" text-anchor="middle" fill="#2a2a2a"  stroke="#2a2a2a" stroke-width="0.08">4</text>
<text x="290.60" y="544.20" font-family="Liberation Serif" font-size="8.1" font-weight="bold" text-anchor="middle" fill="#111" textLength="80" lengthAdjust="spacingAndGlyphs"  stroke="#111" stroke-width="0.22">Log2 Ratio (FPDvsPD)</text>
<text x="194.10" y="455.40" font-family="Liberation Serif" font-size="8.1" font-weight="bold" text-anchor="middle" fill="#111" textLength="28.2" lengthAdjust="spacingAndGlyphs" transform="rotate(-90 194.1 452.6)" stroke="#111" stroke-width="0.22">Number</text>
<rect x="300.8" y="390.20000000000005" width="5" height="5.3" fill="#F18B7D"/>
<text x="306.50" y="395.60" font-family="Liberation Serif" font-size="8" font-weight="normal" text-anchor="start" fill="#222" textLength="56.7" lengthAdjust="spacingAndGlyphs"  stroke="#222" stroke-width="0.08">Phosphoproteome</text>
<rect x="300.8" y="400.9" width="5" height="5.2" fill="#4DBFB6"/>
<text x="306.50" y="406.20" font-family="Liberation Serif" font-size="8" font-weight="normal" text-anchor="start" fill="#222" textLength="30.3" lengthAdjust="spacingAndGlyphs"  stroke="#222" stroke-width="0.08">Proteome</text>
<rect x="418.95" y="528.40" width="2.70" height="0.90" fill="#F18B7D" stroke="#fff" stroke-width="0.5"/>
<rect x="421.65" y="527.70" width="2.70" height="1.60" fill="#F18B7D" stroke="#fff" stroke-width="0.5"/>
<rect x="424.35" y="525.10" width="2.70" height="4.20" fill="#F18B7D" stroke="#fff" stroke-width="0.5"/>
<rect x="427.05" y="523.50" width="2.70" height="5.80" fill="#F18B7D" stroke="#fff" stroke-width="0.5"/>
<rect x="429.75" y="522.40" width="2.70" height="6.90" fill="#F18B7D" stroke="#fff" stroke-width="0.5"/>
<rect x="432.45" y="514.90" width="2.70" height="14.40" fill="#F18B7D" stroke="#fff" stroke-width="0.5"/>
<rect x="435.15" y="511.50" width="2.70" height="17.80" fill="#F18B7D" stroke="#fff" stroke-width="0.5"/>
<rect x="437.85" y="498.90" width="2.70" height="30.40" fill="#F18B7D" stroke="#fff" stroke-width="0.5"/>
<rect x="440.55" y="489.10" width="2.70" height="40.20" fill="#F18B7D" stroke="#fff" stroke-width="0.5"/>
<rect x="443.25" y="477.70" width="2.70" height="51.60" fill="#F18B7D" stroke="#fff" stroke-width="0.5"/>
<rect x="445.95" y="461.30" width="2.70" height="68.00" fill="#F18B7D" stroke="#fff" stroke-width="0.5"/>
<rect x="448.65" y="440.90" width="2.70" height="88.40" fill="#F18B7D" stroke="#fff" stroke-width="0.5"/>
<rect x="451.35" y="429.70" width="2.70" height="99.60" fill="#F18B7D" stroke="#fff" stroke-width="0.5"/>
<rect x="454.05" y="416.70" width="2.70" height="112.60" fill="#F18B7D" stroke="#fff" stroke-width="0.5"/>
<rect x="456.75" y="401.20" width="2.70" height="128.10" fill="#F18B7D" stroke="#fff" stroke-width="0.5"/>
<rect x="459.45" y="390.20" width="2.70" height="139.10" fill="#F18B7D" stroke="#fff" stroke-width="0.5"/>
<rect x="462.15" y="406.60" width="2.70" height="122.70" fill="#F18B7D" stroke="#fff" stroke-width="0.5"/>
<rect x="464.85" y="432.20" width="2.70" height="97.10" fill="#F18B7D" stroke="#fff" stroke-width="0.5"/>
<rect x="467.55" y="460.30" width="2.70" height="69.00" fill="#F18B7D" stroke="#fff" stroke-width="0.5"/>
<rect x="470.25" y="473.50" width="2.70" height="55.80" fill="#F18B7D" stroke="#fff" stroke-width="0.5"/>
<rect x="472.95" y="493.80" width="2.70" height="35.50" fill="#F18B7D" stroke="#fff" stroke-width="0.5"/>
<rect x="475.65" y="503.30" width="2.70" height="26.00" fill="#F18B7D" stroke="#fff" stroke-width="0.5"/>
<rect x="478.35" y="511.90" width="2.70" height="17.40" fill="#F18B7D" stroke="#fff" stroke-width="0.5"/>
<rect x="481.05" y="518.80" width="2.70" height="10.50" fill="#F18B7D" stroke="#fff" stroke-width="0.5"/>
<rect x="483.75" y="522.30" width="2.70" height="7.00" fill="#F18B7D" stroke="#fff" stroke-width="0.5"/>
<rect x="486.45" y="523.50" width="2.70" height="5.80" fill="#F18B7D" stroke="#fff" stroke-width="0.5"/>
<rect x="489.15" y="526.40" width="2.70" height="2.90" fill="#F18B7D" stroke="#fff" stroke-width="0.5"/>
<rect x="491.85" y="527.00" width="2.70" height="2.30" fill="#F18B7D" stroke="#fff" stroke-width="0.5"/>
<rect x="494.55" y="528.30" width="2.70" height="1.00" fill="#F18B7D" stroke="#fff" stroke-width="0.5"/>
<rect x="435.15" y="528.80" width="2.70" height="0.50" fill="#4DBFB6" fill-opacity="0.82" stroke="#fff" stroke-width="0.5"/>
<rect x="437.85" y="527.30" width="2.70" height="2.00" fill="#4DBFB6" fill-opacity="0.82" stroke="#fff" stroke-width="0.5"/>
<rect x="440.55" y="524.80" width="2.70" height="4.50" fill="#4DBFB6" fill-opacity="0.82" stroke="#fff" stroke-width="0.5"/>
<rect x="443.25" y="521.90" width="2.70" height="7.40" fill="#4DBFB6" fill-opacity="0.82" stroke="#fff" stroke-width="0.5"/>
<rect x="445.95" y="514.60" width="2.70" height="14.70" fill="#4DBFB6" fill-opacity="0.82" stroke="#fff" stroke-width="0.5"/>
<rect x="448.65" y="495.30" width="2.70" height="34.00" fill="#4DBFB6" fill-opacity="0.82" stroke="#fff" stroke-width="0.5"/>
<rect x="451.35" y="471.90" width="2.70" height="57.40" fill="#4DBFB6" fill-opacity="0.82" stroke="#fff" stroke-width="0.5"/>
<rect x="454.05" y="449.40" width="2.70" height="79.90" fill="#4DBFB6" fill-opacity="0.82" stroke="#fff" stroke-width="0.5"/>
<rect x="456.75" y="433.50" width="2.70" height="95.80" fill="#4DBFB6" fill-opacity="0.82" stroke="#fff" stroke-width="0.5"/>
<rect x="459.45" y="432.20" width="2.70" height="97.10" fill="#4DBFB6" fill-opacity="0.82" stroke="#fff" stroke-width="0.5"/>
<rect x="462.15" y="456.30" width="2.70" height="73.00" fill="#4DBFB6" fill-opacity="0.82" stroke="#fff" stroke-width="0.5"/>
<rect x="464.85" y="480.50" width="2.70" height="48.80" fill="#4DBFB6" fill-opacity="0.82" stroke="#fff" stroke-width="0.5"/>
<rect x="467.55" y="499.10" width="2.70" height="30.20" fill="#4DBFB6" fill-opacity="0.82" stroke="#fff" stroke-width="0.5"/>
<rect x="470.25" y="509.00" width="2.70" height="20.30" fill="#4DBFB6" fill-opacity="0.82" stroke="#fff" stroke-width="0.5"/>
<rect x="472.95" y="518.80" width="2.70" height="10.50" fill="#4DBFB6" fill-opacity="0.82" stroke="#fff" stroke-width="0.5"/>
<rect x="475.65" y="520.00" width="2.70" height="9.30" fill="#4DBFB6" fill-opacity="0.82" stroke="#fff" stroke-width="0.5"/>
<rect x="478.35" y="524.10" width="2.70" height="5.20" fill="#4DBFB6" fill-opacity="0.82" stroke="#fff" stroke-width="0.5"/>
<rect x="481.05" y="523.50" width="2.70" height="5.80" fill="#4DBFB6" fill-opacity="0.82" stroke="#fff" stroke-width="0.5"/>
<rect x="483.75" y="525.80" width="2.70" height="3.50" fill="#4DBFB6" fill-opacity="0.82" stroke="#fff" stroke-width="0.5"/>
<rect x="486.45" y="527.60" width="2.70" height="1.70" fill="#4DBFB6" fill-opacity="0.82" stroke="#fff" stroke-width="0.5"/>
<rect x="489.15" y="528.80" width="2.70" height="0.50" fill="#4DBFB6" fill-opacity="0.82" stroke="#fff" stroke-width="0.5"/>
<line x1="385.0" y1="390.0" x2="385.0" y2="531.05" stroke="#4a4a4a" stroke-width="1.1"/>
<line x1="384.45" y1="530.5" x2="529.3" y2="530.5" stroke="#4a4a4a" stroke-width="1.1"/>
<text x="384.20" y="532.00" font-family="Liberation Serif" font-size="8" font-weight="normal" text-anchor="end" fill="#2a2a2a"  stroke="#2a2a2a" stroke-width="0.08">0</text>
<text x="384.20" y="493.13" font-family="Liberation Serif" font-size="8" font-weight="normal" text-anchor="end" fill="#2a2a2a"  stroke="#2a2a2a" stroke-width="0.08">250</text>
<text x="384.20" y="454.26" font-family="Liberation Serif" font-size="8" font-weight="normal" text-anchor="end" fill="#2a2a2a"  stroke="#2a2a2a" stroke-width="0.08">500</text>
<text x="384.20" y="415.40" font-family="Liberation Serif" font-size="8" font-weight="normal" text-anchor="end" fill="#2a2a2a"  stroke="#2a2a2a" stroke-width="0.08">750</text>
<text x="394.25" y="538.00" font-family="Liberation Serif" font-size="8" font-weight="normal" text-anchor="middle" fill="#2a2a2a"  stroke="#2a2a2a" stroke-width="0.08">−5.0</text>
<text x="427.12" y="538.00" font-family="Liberation Serif" font-size="8" font-weight="normal" text-anchor="middle" fill="#2a2a2a"  stroke="#2a2a2a" stroke-width="0.08">−2.5</text>
<text x="460.00" y="538.00" font-family="Liberation Serif" font-size="8" font-weight="normal" text-anchor="middle" fill="#2a2a2a"  stroke="#2a2a2a" stroke-width="0.08">0.0</text>
<text x="492.88" y="538.00" font-family="Liberation Serif" font-size="8" font-weight="normal" text-anchor="middle" fill="#2a2a2a"  stroke="#2a2a2a" stroke-width="0.08">2.5</text>
<text x="525.75" y="538.00" font-family="Liberation Serif" font-size="8" font-weight="normal" text-anchor="middle" fill="#2a2a2a"  stroke="#2a2a2a" stroke-width="0.08">5.0</text>
<text x="465.70" y="544.20" font-family="Liberation Serif" font-size="8.1" font-weight="bold" text-anchor="middle" fill="#111" textLength="74" lengthAdjust="spacingAndGlyphs"  stroke="#111" stroke-width="0.22">Log2 Ratio (FPDvsD)</text>
<text x="371.00" y="456.80" font-family="Liberation Serif" font-size="8.1" font-weight="bold" text-anchor="middle" fill="#111" textLength="28.2" lengthAdjust="spacingAndGlyphs" transform="rotate(-90 371 454)" stroke="#111" stroke-width="0.22">Number</text>
<rect x="475.6" y="389.70000000000005" width="5" height="5.3" fill="#F18B7D"/>
<text x="481.30" y="395.10" font-family="Liberation Serif" font-size="8" font-weight="normal" text-anchor="start" fill="#222" textLength="58.5" lengthAdjust="spacingAndGlyphs"  stroke="#222" stroke-width="0.08">Phosphoproteome</text>
<rect x="475.6" y="400.3" width="5" height="5.2" fill="#4DBFB6"/>
<text x="481.30" y="405.60" font-family="Liberation Serif" font-size="8" font-weight="normal" text-anchor="start" fill="#222" textLength="30.9" lengthAdjust="spacingAndGlyphs"  stroke="#222" stroke-width="0.08">Proteome</text>
</svg>
</body></html>
